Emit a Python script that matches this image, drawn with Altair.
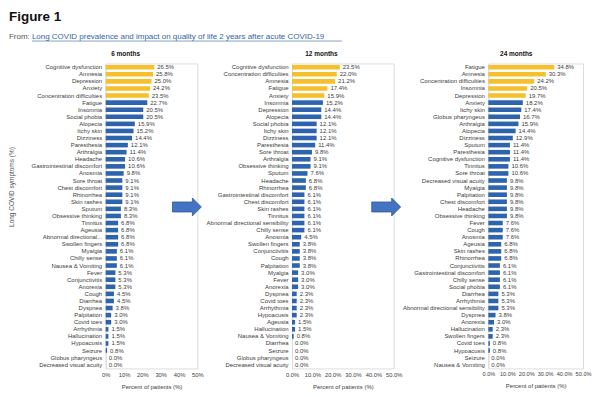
import altair as alt
import pandas as pd

FONT = "Liberation Sans"
YELLOW = "#F5C02C"
BLUE = "#2E63AE"
TXT = "#404040"

fig_title = "Figure 1"
from_label = "From:"
link_text = "Long COVID prevalence and impact on quality of life 2 years after acute COVID-19"
y_title = "Long COVID symptoms (%)"
x_title = "Percent of patients (%)"
panel_titles = ["6 months", "12 months", "24 months"]
tick_values = [0, 10, 20, 30, 40, 50]

cats6 = ["Cognitive dysfunction", "Amnesia", "Depression", "Anxiety", "Concentration difficulties",
         "Fatigue", "Insomnia", "Social phobia", "Alopecia", "Itchy skin", "Dizziness", "Paresthesia",
         "Arthralgia", "Headache", "Gastrointestinal discomfort", "Anosmia", "Sore throat",
         "Chest discomfort", "Rhinorrhea", "Skin rashes", "Sputum", "Obsessive thinking", "Tinnitus",
         "Ageusia", "Abnormal directional...", "Swollen fingers", "Myalgia", "Chilly sense",
         "Nausea & Vomiting", "Fever", "Conjunctivitis", "Anorexia", "Cough", "Diarrhea", "Dyspnea",
         "Palpitation", "Covid toes", "Arrhythmia", "Hallucination", "Hypoacusis", "Seizure",
         "Globus pharyngeus", "Decreased visual acuity"]
vals6 = [26.5, 25.8, 25.0, 24.2, 23.5, 22.7, 20.5, 20.5, 15.9, 15.2, 14.4, 12.1, 11.4, 10.6, 10.6,
         9.8, 9.1, 9.1, 9.1, 9.1, 8.3, 8.3, 6.8, 6.8, 6.8, 6.8, 6.1, 6.1, 6.1, 5.3, 5.3, 5.3, 4.5,
         4.5, 3.8, 3.0, 3.0, 1.5, 1.5, 1.5, 0.8, 0.0, 0.0]

cats12 = ["Cognitive dysfunction", "Concentration difficulties", "Amnesia", "Fatigue", "Anxiety",
          "Insomnia", "Depression", "Alopecia", "Social phobia", "Itchy skin", "Dizziness",
          "Paresthesia", "Sore throat", "Arthralgia", "Obsessive thinking", "Sputum", "Headache",
          "Rhinorrhea", "Gastrointestinal discomfort", "Chest discomfort", "Skin rashes", "Tinnitus",
          "Abnormal directional sensibility", "Chilly sense", "Anosmia", "Swollen fingers",
          "Conjunctivitis", "Cough", "Palpitation", "Myalgia", "Fever", "Anorexia", "Dyspnea",
          "Covid toes", "Arrhythmia", "Hypoacusis", "Ageusia", "Hallucination", "Nausea & Vomiting",
          "Diarrhea", "Seizure", "Globus pharyngeus", "Decreased visual acuity"]
vals12 = [23.5, 22.0, 21.2, 17.4, 15.9, 15.2, 14.4, 14.4, 12.1, 12.1, 12.1, 11.4, 9.8, 9.1, 9.1,
          7.6, 6.8, 6.8, 6.1, 6.1, 6.1, 6.1, 6.1, 6.1, 4.5, 3.8, 3.8, 3.8, 3.8, 3.0, 3.0, 3.0, 2.3,
          2.3, 2.3, 2.3, 1.5, 1.5, 0.8, 0.0, 0.0, 0.0, 0.0]

cats24 = ["Fatigue", "Amnesia", "Concentration difficulties", "Insomnia", "Depression", "Anxiety",
          "Itchy skin", "Globus pharyngeus", "Arthralgia", "Alopecia", "Dizziness", "Sputum",
          "Paresthesia", "Cognitive dysfunction", "Tinnitus", "Sore throat", "Decreased visual acuity",
          "Myalgia", "Palpitation", "Chest discomfort", "Headache", "Obsessive thinking", "Fever",
          "Cough", "Anosmia", "Ageusia", "Skin rashes", "Rhinorrhea", "Conjunctivitis",
          "Gastrointestinal discomfort", "Chilly sense", "Social phobia", "Diarrhea", "Arrhythmia",
          "Abnormal directional sensibility", "Dyspnea", "Anorexia", "Hallucination",
          "Swollen fingers", "Covid toes", "Hypoacusis", "Seizure", "Nausea & Vomiting"]
vals24 = [34.8, 30.3, 24.2, 20.5, 19.7, 18.2, 17.4, 16.7, 15.9, 14.4, 12.9, 11.4, 11.4, 11.4,
          10.6, 10.6, 9.8, 9.8, 9.8, 9.8, 9.8, 9.8, 7.6, 7.6, 7.6, 6.8, 6.8, 6.8, 6.1, 6.1, 6.1,
          6.1, 5.3, 5.3, 5.3, 3.8, 3.0, 2.3, 2.3, 0.8, 0.8, 0.0, 0.0]

HEIGHT = 306
ARROW = "M -1 -0.345 L 0.38 -0.345 L 0.38 -0.62 L 1 0 L 0.38 0.62 L 0.38 0.345 L -1 0.345 Z"


def one_row(text):
    return pd.DataFrame({"t": [text]})


def arrow_layer(x, y):
    return alt.Chart(one_row("")).mark_point(
        shape=ARROW, size=841, filled=True, fill="#4374C1", stroke="#2E5597",
        strokeWidth=0.8, opacity=1
    ).encode(x=alt.value(x), y=alt.value(y))


def panel(cats, vals, width, title, title_x, label_expr, extra, xlabel_size=5.8):
    df = pd.DataFrame({"symptom": cats, "value": vals, "rank": list(range(len(cats)))})
    df["label"] = [f"{v:.1f}%" for v in vals]
    yenc = alt.Y("symptom:N", sort=cats, title=None,
                 scale=alt.Scale(paddingInner=0.35, paddingOuter=0.2),
                 axis=alt.Axis(labelFontSize=6, labelColor=TXT, labelFont=FONT, ticks=False,
                               domain=True, domainColor="#d9d9d9", domainWidth=0.8,
                               labelPadding=4, labelLimit=300, labelOverlap=False))
    xenc = alt.X("value:Q", title=x_title,
                 scale=alt.Scale(domain=[0, 50], nice=False),
                 axis=alt.Axis(values=tick_values, labelExpr=label_expr,
                               labelFontSize=xlabel_size, labelColor=TXT, labelFont=FONT,
                               ticks=False, domain=False, grid=False, labelPadding=3,
                               labelOverlap=False, labelFlush=False,
                               titleFontSize=6, titleFontWeight="normal", titleColor=TXT,
                               titleFont=FONT, titlePadding=6))
    base = alt.Chart(df).encode(y=yenc, x=xenc)
    bars = base.mark_bar().encode(
        color=alt.condition("datum.rank < 5", alt.value(YELLOW), alt.value(BLUE)))
    labels = base.mark_text(align="left", baseline="middle", dx=3, fontSize=6, font=FONT,
                            color=TXT).encode(text="label:N")
    ttl = alt.Chart(one_row(title)).mark_text(
        fontSize=6.5, fontWeight="bold", font=FONT, color="#111111", align="center",
        baseline="middle").encode(x=alt.value(title_x), y=alt.value(-9), text="t:N")
    return alt.layer(bars, labels, ttl, *extra).properties(width=width, height=HEIGHT)


header = [
    alt.Chart(one_row(fig_title)).mark_text(
        fontSize=13.5, fontWeight="bold", font=FONT, color="#111111", align="left",
        baseline="alphabetic").encode(x=alt.value(-97), y=alt.value(-43), text="t:N"),
    alt.Chart(one_row(from_label)).mark_text(
        fontSize=8, font=FONT, color="#555555", align="left", baseline="middle"
    ).encode(x=alt.value(-97), y=alt.value(-27), text="t:N"),
    alt.Chart(one_row(link_text)).mark_text(
        fontSize=8, font=FONT, color="#3465A4", align="left", baseline="middle"
    ).encode(x=alt.value(-74), y=alt.value(-27), text="t:N"),
    alt.Chart(one_row("")).mark_rule(color="#3465A4", strokeWidth=0.6).encode(
        x=alt.value(-74), x2=alt.value(237), y=alt.value(-22.5)),
    alt.Chart(one_row(y_title)).mark_text(
        fontSize=6.5, font=FONT, color="#555555", angle=270, align="center",
        baseline="middle").encode(x=alt.value(-93.5), y=alt.value(124), text="t:N"),
    arrow_layer(81.5, 144),
]

p1 = panel(cats6, vals6, 92, panel_titles[0], 20, "datum.value + '%'", header)
p2 = panel(cats12, vals12, 102, panel_titles[1], 29.5, "format(datum.value, '.1f') + '%'",
           [arrow_layer(94.5, 144)])
p3 = panel(cats24, vals24, 95, panel_titles[2], 28, "format(datum.value, '.1f') + '%'", [],
           xlabel_size=5.6)

chart = alt.hconcat(p1, p2, p3, spacing=95, bounds="flush").properties(
    padding=0
).configure_view(stroke=None).configure(font=FONT, background="white")

chart.save("out.html", embed_options={"renderer": "svg", "actions": False})
